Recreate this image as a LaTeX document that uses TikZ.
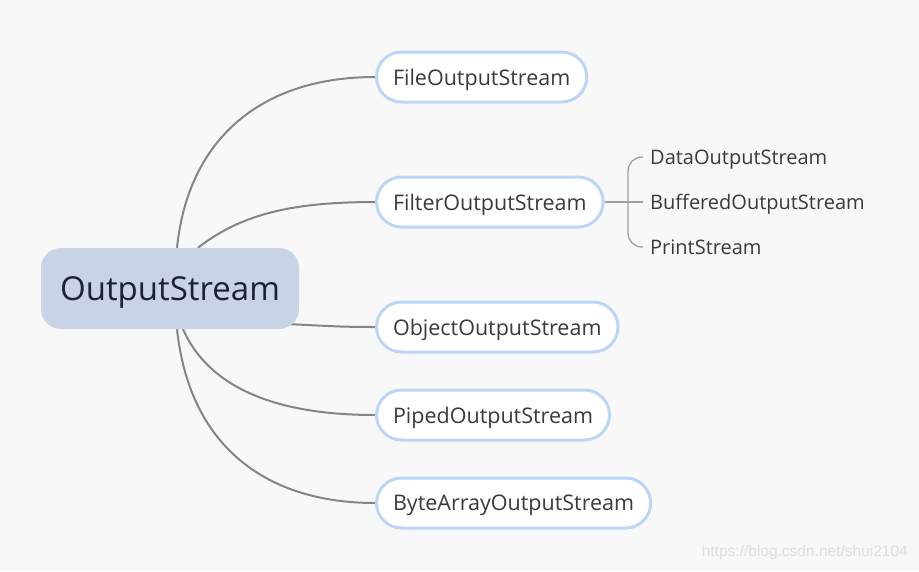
\documentclass[tikz,border=0pt]{standalone}
\usepackage{fontspec}
\setmainfont{Open Sans}
\newfontfamily\wmfont{Liberation Sans}
\usetikzlibrary{backgrounds}
\definecolor{bgcol}{HTML}{F8F8F8}
\definecolor{rootfill}{HTML}{C8D3E6}
\definecolor{boxline}{HTML}{BBD6F7}
\definecolor{linkgray}{HTML}{858585}
\definecolor{sublinkgray}{HTML}{A0A0A0}
\definecolor{txt}{HTML}{3A3A3A}
\definecolor{roottxt}{HTML}{1E2133}
\begin{document}
\begin{tikzpicture}[x=1pt,y=-1pt,
 childbox/.style={draw=boxline, line width=3pt, fill=white, rounded corners=25pt, minimum height=50pt, inner xsep=16.5pt, inner ysep=0pt, text depth=0pt, anchor=west, font=\fontsize{21.5}{24}\selectfont, text=txt},
 leaf/.style={inner sep=0pt, text depth=0pt, anchor=west, font=\fontsize{20}{24}\selectfont, text=txt},
 link/.style={draw=linkgray, line width=2pt},
 sublink/.style={draw=sublinkgray, line width=1.3pt}]
\useasboundingbox (0,0) rectangle (919,571);
\node[fill=rootfill, rounded corners=20pt, minimum width=258pt, minimum height=81pt, inner sep=0pt, text depth=0pt, font=\fontsize{33}{38}\selectfont, text=roottxt] (root) at (170,288.5) {OutputStream};
\node[childbox] (file) at (375,77) {FileOutputStream};
\node[childbox] (filter) at (375,202) {FilterOutputStream};
\node[childbox] (object) at (375,327) {ObjectOutputStream};
\node[childbox] (piped) at (375,415) {PipedOutputStream};
\node[childbox] (bytearr) at (375,503) {ByteArrayOutputStream};
\node[leaf] (data) at (650,157) {DataOutputStream};
\node[leaf] (buffered) at (650,202) {BufferedOutputStream};
\node[leaf] (print) at (650,247) {PrintStream};
\node[anchor=east, inner sep=0pt, font=\wmfont\fontsize{15.5}{18}\selectfont, text=black!13] (wm) at (908,552) {https://blog.csdn.net/shui2104};
\coordinate (bj) at (628,202);
\begin{scope}[on background layer]
\fill[bgcol] (0,0) rectangle (919,571);
\draw[link] ([xshift=7pt]root.north) .. controls (188,140) and (260,77) .. (file.west);
\draw[link] ([xshift=28pt]root.north) .. controls (240,215) and (290,202) .. (filter.west);
\draw[link] ([xshift=-9pt,yshift=5pt]root.south east) .. controls (330,326) and (340,327) .. (object.west);
\draw[link] ([xshift=13pt]root.south) .. controls (210,390) and (280,415) .. (piped.west);
\draw[link] ([xshift=7pt]root.south) .. controls (190,450) and (270,503) .. (bytearr.west);
\draw[sublink] (filter.east) -- ([xshift=-7pt]buffered.west);
\draw[sublink, rounded corners=14pt] ([xshift=-7pt]data.west) -| (bj) |- ([xshift=-7pt]print.west);
\end{scope}
\end{tikzpicture}
\end{document}
